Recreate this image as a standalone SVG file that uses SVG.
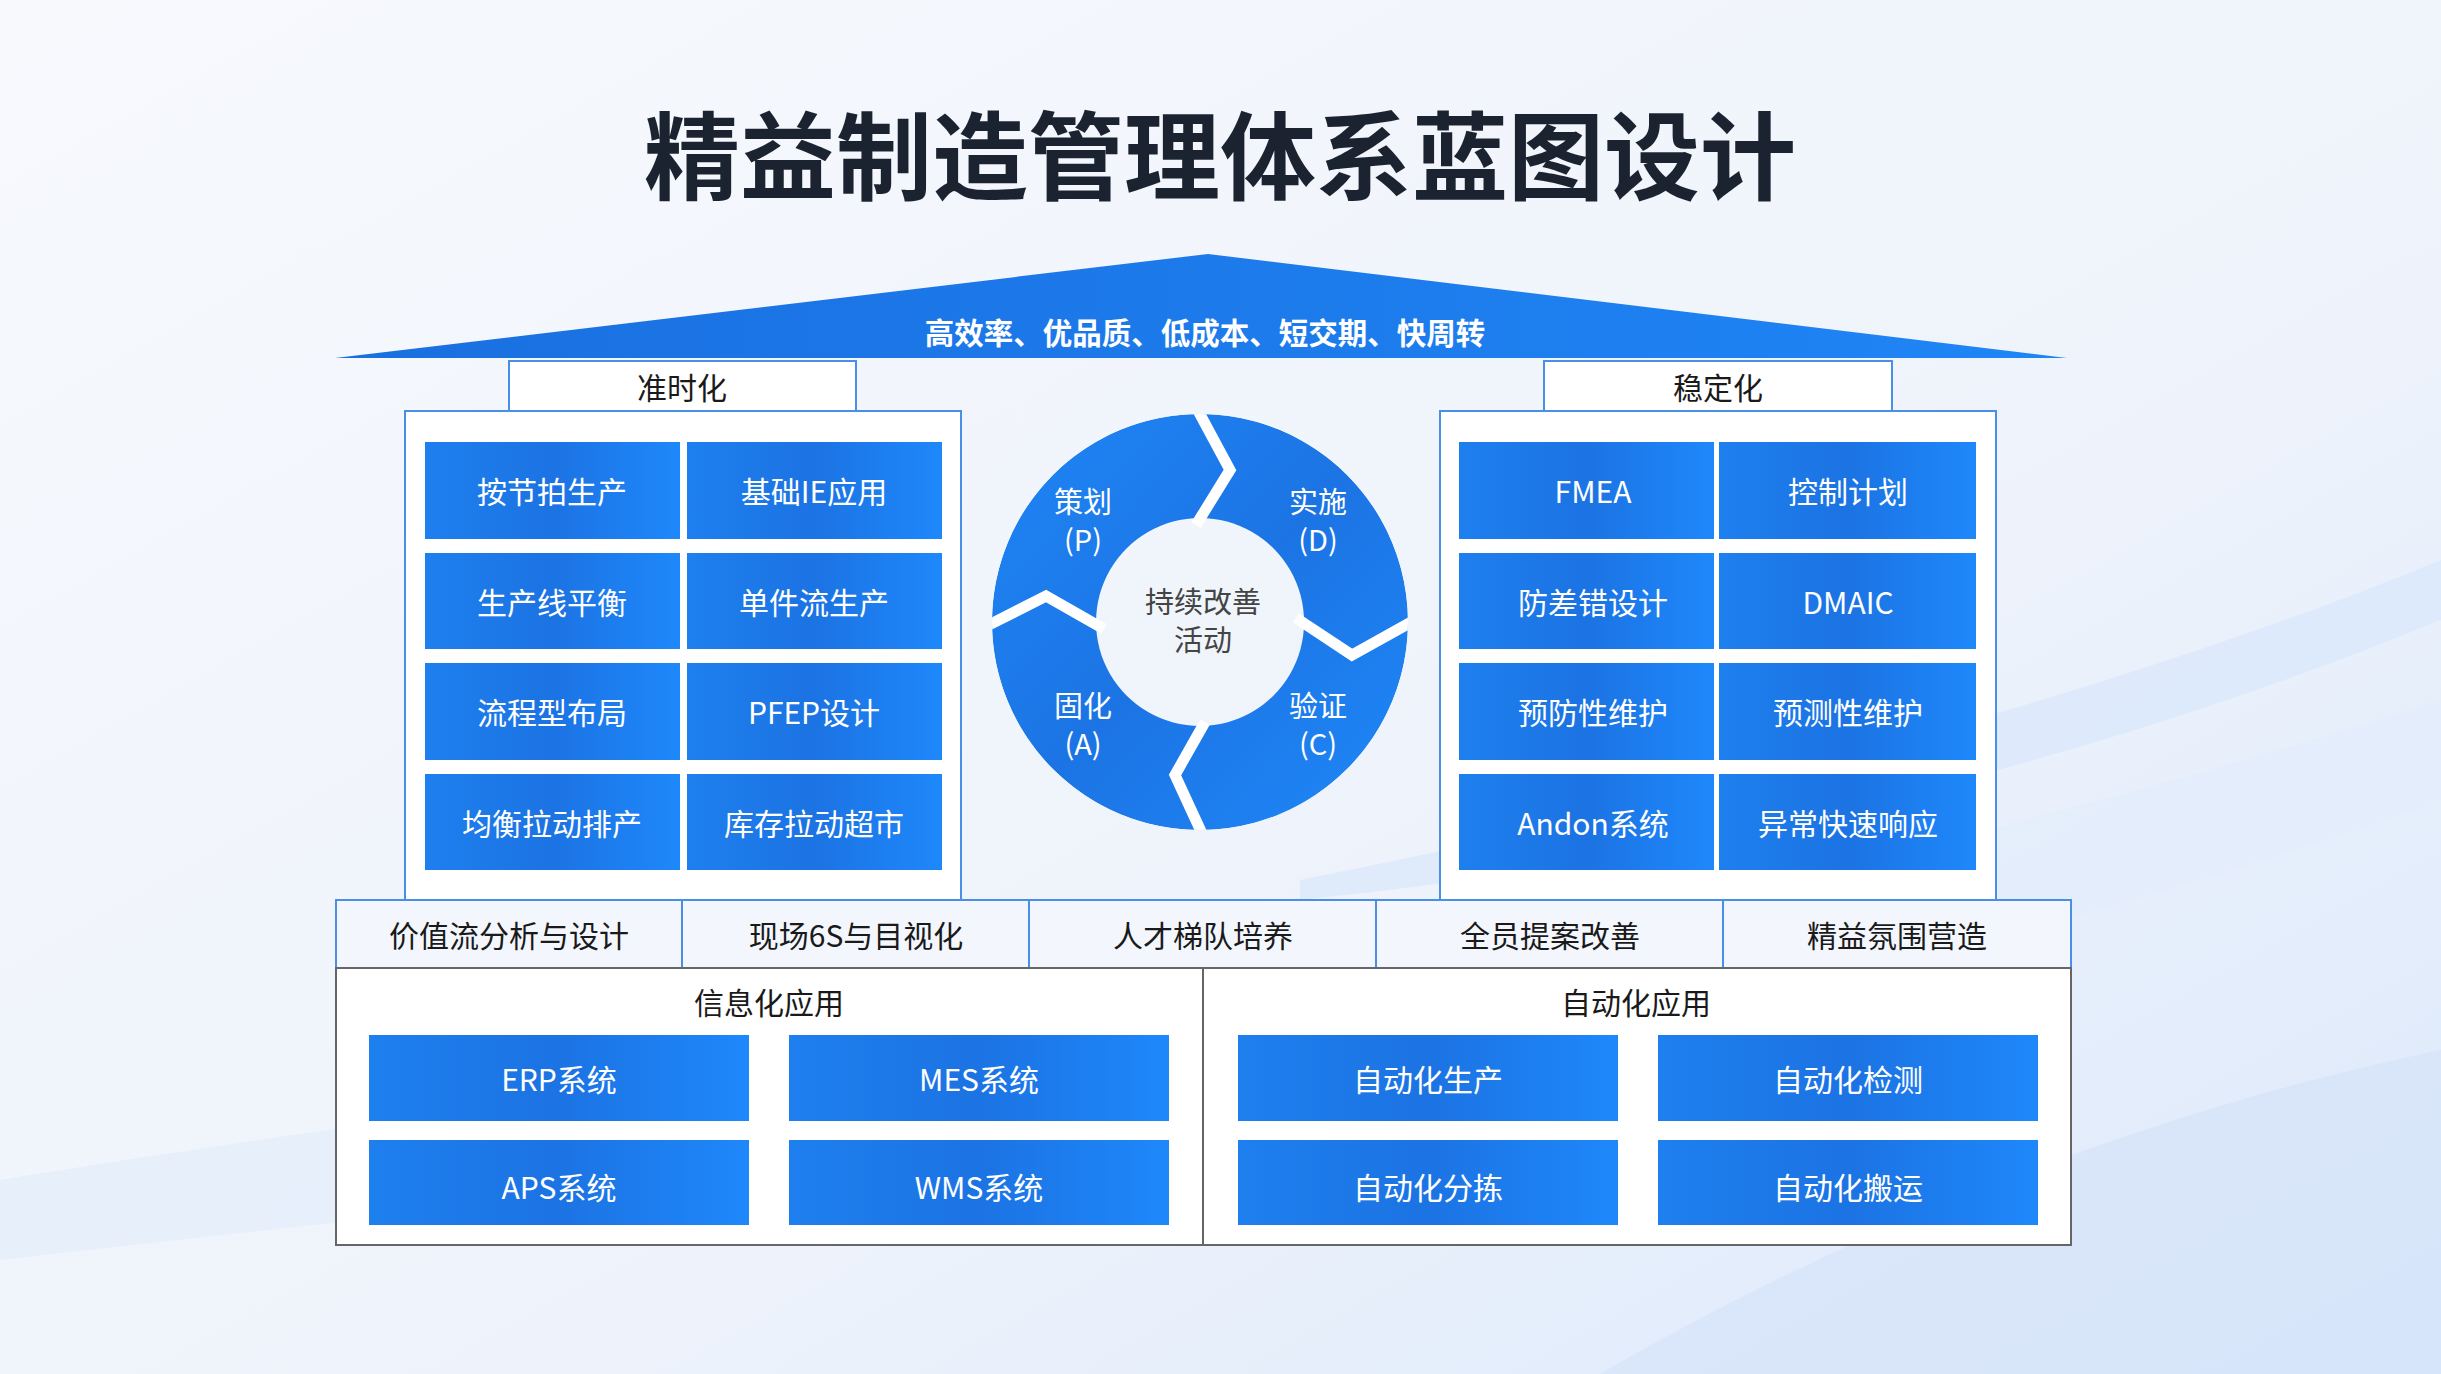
<svg xmlns="http://www.w3.org/2000/svg" width="2441" height="1374" viewBox="0 0 2441 1374">
<defs>
<linearGradient id="bg" x1="0" y1="0" x2="1" y2="1"><stop offset="0" stop-color="#f7f9fd"/><stop offset="0.6" stop-color="#eef3fb"/><stop offset="1" stop-color="#dbe8fb"/></linearGradient>
<linearGradient id="cell" x1="0" y1="0" x2="1" y2="0"><stop offset="0" stop-color="#1e7fee"/><stop offset="0.5" stop-color="#1c73e3"/><stop offset="1" stop-color="#1e88fb"/></linearGradient>
<linearGradient id="roof" x1="0" y1="0" x2="1" y2="0"><stop offset="0" stop-color="#1a6fe0"/><stop offset="1" stop-color="#1f85f5"/></linearGradient>
<linearGradient id="ring" x1="0" y1="0" x2="1" y2="1"><stop offset="0" stop-color="#1f86f6"/><stop offset="0.5" stop-color="#1c74e4"/><stop offset="1" stop-color="#1f88f8"/></linearGradient>
<clipPath id="rc"><circle cx="1200" cy="622" r="208"/></clipPath>
<style>
.t{font-family:"Noto Sans CJK SC","Noto Sans",sans-serif;text-anchor:middle;dominant-baseline:central}
.w{fill:#fff;font-size:30px}
.d{fill:#1a1a1a;font-size:30px}
.s{fill:#fff;font-size:29px}
.box{fill:#fff;stroke:#4a8fe6;stroke-width:2}
.c{fill:url(#cell)}
.ch{fill:none;stroke:#fff;stroke-width:11;stroke-linejoin:miter}
</style>
</defs>
<rect width="2441" height="1374" fill="url(#bg)"/>
<path d="M0 1180 C600 1080 1500 1000 2441 700 L2441 800 C1600 1100 700 1180 0 1260Z" fill="#e3edfb" opacity="0.7"/>
<path d="M1300 880 C1700 800 2100 700 2441 560 L2441 620 C2100 760 1700 860 1300 900Z" fill="#d6e6fb" opacity="0.6"/>
<path d="M1600 1374 C1900 1200 2200 1100 2441 1050 L2441 1374Z" fill="#d3e3fa" opacity="0.6"/>
<text x="1220" y="150" class="t" style="font-size:96px;font-weight:bold;fill:#1c2330">精益制造管理体系蓝图设计</text>
<g id="roof"><polygon points="335,358 1208,254 2067,358" fill="url(#roof)"/>
<text x="1205" y="331" class="t" style="fill:#fff;font-size:29.5px;font-weight:bold">高效率、优品质、低成本、短交期、快周转</text></g>
<g id="jit">
<rect x="509" y="361" width="347" height="50" class="box"/><text x="682" y="386" class="t d">准时化</text>
<rect x="405" y="411" width="556" height="489" class="box"/>
<rect x="425" y="442" width="255" height="97" class="c"/><text x="552" y="490" class="t w">按节拍生产</text>
<rect x="687" y="442" width="255" height="97" class="c"/><text x="814" y="490" class="t w">基础IE应用</text>
<rect x="425" y="553" width="255" height="96" class="c"/><text x="552" y="601" class="t w">生产线平衡</text>
<rect x="687" y="553" width="255" height="96" class="c"/><text x="814" y="601" class="t w">单件流生产</text>
<rect x="425" y="663" width="255" height="97" class="c"/><text x="552" y="711" class="t w">流程型布局</text>
<rect x="687" y="663" width="255" height="97" class="c"/><text x="814" y="711" class="t w">PFEP设计</text>
<rect x="425" y="774" width="255" height="96" class="c"/><text x="552" y="822" class="t w">均衡拉动排产</text>
<rect x="687" y="774" width="255" height="96" class="c"/><text x="814" y="822" class="t w">库存拉动超市</text>
</g>
<g id="stab">
<rect x="1544" y="361" width="348" height="50" class="box"/><text x="1718" y="386" class="t d">稳定化</text>
<rect x="1440" y="411" width="556" height="489" class="box"/>
<rect x="1459" y="442" width="255" height="97" class="c"/><text x="1593" y="490" class="t w">FMEA</text>
<rect x="1719" y="442" width="257" height="97" class="c"/><text x="1848" y="490" class="t w">控制计划</text>
<rect x="1459" y="553" width="255" height="96" class="c"/><text x="1593" y="601" class="t w">防差错设计</text>
<rect x="1719" y="553" width="257" height="96" class="c"/><text x="1848" y="601" class="t w">DMAIC</text>
<rect x="1459" y="663" width="255" height="97" class="c"/><text x="1593" y="711" class="t w">预防性维护</text>
<rect x="1719" y="663" width="257" height="97" class="c"/><text x="1848" y="711" class="t w">预测性维护</text>
<rect x="1459" y="774" width="255" height="96" class="c"/><text x="1593" y="822" class="t w">Andon系统</text>
<rect x="1719" y="774" width="257" height="96" class="c"/><text x="1848" y="822" class="t w">异常快速响应</text>
</g>
<g id="pdca">
<g clip-path="url(#rc)">
<path d="M1200 414 A208 208 0 1 1 1199.9 414 Z M1200 518 A104 104 0 1 0 1200.1 518 Z" fill="url(#ring)" fill-rule="evenodd"/>
<polyline class="ch" points="1195,405 1230,470 1196,525"/>
<polyline class="ch" points="1415,620 1352,655 1296,618"/>
<polyline class="ch" points="1205,840 1175,775 1205,722"/>
<polyline class="ch" points="985,627 1046,596 1104,629"/>
</g>
<text x="1083" y="500" class="t s">策划</text><text x="1083" y="538" class="t s">(P)</text>
<text x="1318" y="500" class="t s">实施</text><text x="1318" y="538" class="t s">(D)</text>
<text x="1083" y="704" class="t s">固化</text><text x="1083" y="742" class="t s">(A)</text>
<text x="1318" y="704" class="t s">验证</text><text x="1318" y="742" class="t s">(C)</text>
<text x="1203" y="600" class="t" style="fill:#444;font-size:29px">持续改善</text>
<text x="1203" y="638" class="t" style="fill:#444;font-size:29px">活动</text>
</g>
<g id="base">
<rect x="336" y="900" width="1735" height="68" fill="#f3f7fd" stroke="#4a8fe6" stroke-width="2"/>
<path d="M682 900V968M1029 900V968M1376 900V968M1723 900V968" stroke="#4a8fe6" stroke-width="2"/>
<text x="509" y="934" class="t d">价值流分析与设计</text>
<text x="856" y="934" class="t d">现场6S与目视化</text>
<text x="1203" y="934" class="t d">人才梯队培养</text>
<text x="1550" y="934" class="t d">全员提案改善</text>
<text x="1897" y="934" class="t d">精益氛围营造</text>
</g>
<g id="apps">
<rect x="336" y="968" width="1735" height="277" fill="#fff" stroke="#666" stroke-width="2"/>
<path d="M1203 968V1245" stroke="#666" stroke-width="2"/>
<text x="769" y="1001" class="t d">信息化应用</text>
<text x="1636" y="1001" class="t d">自动化应用</text>
<rect x="369" y="1035" width="380" height="86" class="c"/><text x="559" y="1078" class="t w">ERP系统</text>
<rect x="789" y="1035" width="380" height="86" class="c"/><text x="979" y="1078" class="t w">MES系统</text>
<rect x="369" y="1140" width="380" height="85" class="c"/><text x="559" y="1186" class="t w">APS系统</text>
<rect x="789" y="1140" width="380" height="85" class="c"/><text x="979" y="1186" class="t w">WMS系统</text>
<rect x="1238" y="1035" width="380" height="86" class="c"/><text x="1428" y="1078" class="t w">自动化生产</text>
<rect x="1658" y="1035" width="380" height="86" class="c"/><text x="1848" y="1078" class="t w">自动化检测</text>
<rect x="1238" y="1140" width="380" height="85" class="c"/><text x="1428" y="1186" class="t w">自动化分拣</text>
<rect x="1658" y="1140" width="380" height="85" class="c"/><text x="1848" y="1186" class="t w">自动化搬运</text>
</g>
</svg>
